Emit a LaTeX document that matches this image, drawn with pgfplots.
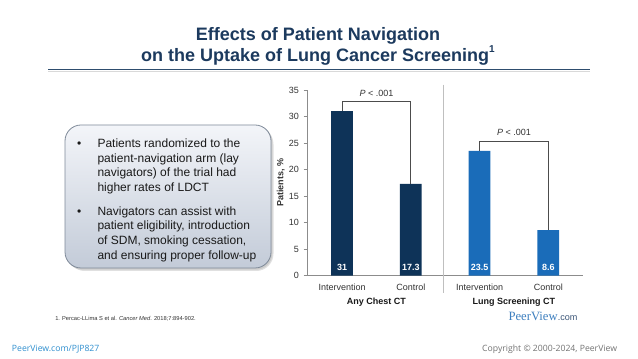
\documentclass[border=0pt]{standalone}
\usepackage{pgfplots}
\pgfplotsset{compat=1.18}
\usepackage{fontspec}
\setmainfont{Liberation Sans}
\newfontfamily\seriffont{Liberation Serif}
\newfontfamily\opensans{Open Sans}
\definecolor{titlecol}{HTML}{1C3A5E}
\definecolor{titleline}{HTML}{2E4D6E}
\definecolor{navy}{HTML}{0E3358}
\definecolor{midblue}{HTML}{1A6CB9}
\definecolor{axisgray}{HTML}{8C8C8C}
\definecolor{txtgray}{HTML}{333333}
\definecolor{linkblue}{HTML}{2F8FCF}
\definecolor{logoblue}{HTML}{3D7FBF}
\definecolor{comcol}{HTML}{3B5577}
\definecolor{boxborder}{HTML}{7F8A99}
\definecolor{boxtop}{HTML}{F3F5F9}
\definecolor{boxbot}{HTML}{C3CBD8}
\begin{document}
\begin{tikzpicture}[x=0.75pt,y=0.75pt]
\useasboundingbox (0,0) rectangle (638,359);
\fill[white] (0,0) rectangle (638,359);
% title
\node[anchor=base,text=titlecol,font=\fontsize{13.5}{16}\selectfont\bfseries,inner sep=0] at (318,318.5) {Effects of Patient Navigation};
\node[anchor=base,text=titlecol,font=\fontsize{13.5}{16}\selectfont\bfseries,inner sep=0] at (318,297) {on the Uptake of Lung Cancer Screening\raisebox{0.5em}{\fontsize{7.5}{8}\selectfont 1}};
\draw[black!15,line width=1pt] (48,287.8) -- (590,287.8);
\draw[titleline,line width=1.4pt] (48,289.5) -- (590,289.5);
% box
\fill[black!12,rounded corners=13] (67.5,88) rectangle (273.5,232);
\fill[black!20,rounded corners=12] (66.5,89.3) rectangle (272.3,233);
\shade[top color=boxtop,bottom color=boxbot,rounded corners=12] (65,91) rectangle (271,234);
\draw[boxborder,line width=0.6pt,rounded corners=12] (65,91) rectangle (271,234);
\begin{scope}[every node/.style={anchor=base west,inner sep=0,font=\fontsize{9}{11}\selectfont,text=black!90}]
\node[anchor=base] at (79.3,211.4) {•};
\node at (97.3,211.4) {Patients randomized to the};
\node at (97.3,196.7) {patient-navigation arm (lay};
\node at (97.3,182.0) {navigators) of the trial had};
\node at (97.3,167.3) {higher rates of LDCT};
\node[anchor=base] at (79.3,143.7) {•};
\node at (97.3,143.7) {Navigators can assist with};
\node at (97.3,129.0) {patient eligibility, introduction};
\node at (97.3,114.3) {of SDM, smoking cessation,};
\node at (97.3,99.6) {and ensuring proper follow-up};
\end{scope}
% footer
\node[anchor=base west,inner sep=0,font=\fontsize{4.3}{5}\selectfont,text=black!80] at (55,38.7) {1. Percac-LLima S et al. \textit{Cancer Med}. 2018;7:894-902.};
\node[anchor=base west,inner sep=0,font=\opensans\fontsize{6.5}{8}\selectfont,text=linkblue] at (11.7,7.2) {PeerView.com/PJP827};
\node[anchor=base east,inner sep=0,font=\opensans\fontsize{6.5}{8}\selectfont,text=black!55] at (617.3,7.2) {Copyright © 2000-2024, PeerView};
\node[anchor=base west,inner sep=0] at (508.3,38) {{\seriffont\fontsize{9.5}{11}\selectfont\color{logoblue}PeerView}{\fontsize{6.8}{8}\selectfont\color{comcol}.com}};
% chart
\begin{axis}[
  at={(230.775pt,62.475pt)}, anchor=south west,
  scale only axis, width=206.25pt, height=139.3pt,
  xmin=-0.5, xmax=3.5, ymin=0, ymax=35,
  ytick={0,5,10,15,20,25,30,35},
  xtick={0,1,2,3},
  xticklabels={Intervention,Control,Intervention,Control},
  axis x line*=bottom, axis y line*=left,
  axis line style={axisgray,line width=0.6pt,-},
  x tick style={draw=none},
  y tick style={axisgray,line width=0.6pt},
  tick align=outside, major tick length=3pt,
  tick label style={font=\fontsize{6.75}{8}\selectfont,text=txtgray},
  /pgf/number format/assume math mode=true,
  ylabel={Patients, \%},
  ylabel style={font=\fontsize{6.75}{8}\selectfont\bfseries,text=txtgray,at={(axis description cs:-0.098,0.5)},anchor=center},
  clip=false,
  ybar, bar width=16.3pt,
]
\addplot[ybar,bar shift=0pt,fill=navy,draw=none] coordinates {(0,31) (1,17.3)};
\addplot[ybar,bar shift=0pt,fill=midblue,draw=none] coordinates {(2,23.5) (3,8.6)};
\draw[black!25,line width=0.5pt] (axis cs:1.47,36) -- (axis cs:1.47,-3.3);
\draw[black!70,line width=0.7pt] (axis cs:0,31) -- (axis cs:0,32.8) -- (axis cs:1,32.8) -- (axis cs:1,17.3);
\draw[black!70,line width=0.7pt] (axis cs:2,23.5) -- (axis cs:2,25.2) -- (axis cs:3,25.2) -- (axis cs:3,8.6);
\begin{scope}[every node/.style={font=\fontsize{6.75}{8}\selectfont,text=txtgray}]
\node at (axis cs:0.5,34.3) {\textit{P} < .001};
\node at (axis cs:2.5,27) {\textit{P} < .001};
\end{scope}
\begin{scope}[every node/.style={font=\fontsize{6.75}{8}\selectfont\bfseries,text=white}]
\node at (axis cs:0,1.65) {31};
\node at (axis cs:1,1.65) {17.3};
\node at (axis cs:2,1.65) {23.5};
\node at (axis cs:3,1.65) {8.6};
\end{scope}
\begin{scope}[every node/.style={font=\fontsize{6.75}{8}\selectfont\bfseries,text=black!90}]
\node at (axis cs:0.5,-5.0) {Any Chest CT};
\node at (axis cs:2.5,-5.0) {Lung Screening CT};
\end{scope}
\end{axis}
\end{tikzpicture}
\end{document}
